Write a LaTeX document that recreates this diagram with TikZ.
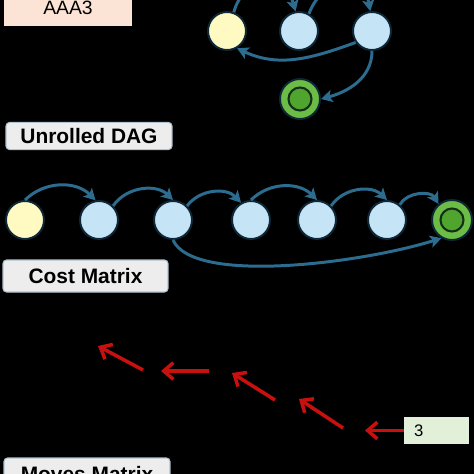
\documentclass[tikz,border=0pt]{standalone}
\usepackage{fontspec}
\setmainfont{Liberation Sans}
\usetikzlibrary{arrows.meta}
\definecolor{edgeblue}{HTML}{2B6C8F}
\definecolor{nodeblue}{HTML}{C5E4F5}
\definecolor{nodeyellow}{HTML}{FFFAC2}
\definecolor{ringgreen}{HTML}{6CBD45}
\definecolor{coregreen}{HTML}{4FA52E}
\definecolor{coredark}{HTML}{15301A}
\definecolor{rimdark}{HTML}{0E2838}
\definecolor{pathred}{HTML}{C8100F}
\definecolor{tagpeach}{HTML}{FBE4D5}
\definecolor{taggreen}{HTML}{E2F0D9}
\definecolor{labelgray}{HTML}{EDEDED}
\definecolor{labelrim}{HTML}{AFC3D0}
\begin{document}
\begin{tikzpicture}[x=0.02cm,y=0.02cm,
  state/.style={circle,draw=rimdark,line width=1.1pt,minimum size=0.76cm,inner sep=0pt},
  start/.style={state,fill=nodeyellow},
  mid/.style={state,fill=nodeblue},
  goal/.style={state,fill=ringgreen,minimum size=0.8cm,
    path picture={\draw[line width=1.2pt,draw=coredark,fill=coregreen]
      (path picture bounding box.center) circle (0.23cm);}},
  hop/.style={draw=edgeblue,line width=1.7pt,-{Stealth[length=6.5pt,width=7pt,inset=1.5pt]}},
  back/.style={draw=pathred,line width=2pt,-{Straight Barb[length=5.5pt,width=9.5pt]}},
  caption/.style={draw=labelrim,line width=0.6pt,fill=labelgray,rounded corners=2pt,
    font=\fontsize{11.9}{14}\selectfont\bfseries,text=black,minimum width=3.32cm}]
  \useasboundingbox (0,0) rectangle (474,-474);
  \fill[black] (0,0) rectangle (474,-474);
  \clip (0,0) rectangle (474,-474);

  % loop graph
  \node[fill=tagpeach,minimum width=2.56cm,minimum height=0.76cm,
    font=\fontsize{11}{13}\selectfont] (seq) at (68,-7.5) {AAA3};
  \node[start] (yt) at (227,-31) {};
  \node[mid] (a2) at (299,-31) {};
  \node[mid] (a3) at (372,-31) {};
  \node[goal] (gt) at (300,-99) {};

  \draw[hop] (yt.70) to[out=75,in=105,looseness=1.6] (a2.100);
  \draw[hop] (a2.60) to[out=70,in=100,looseness=1.6] (a3.95);
  \draw[hop] (a3.215) to[out=200,in=-25] (yt.-60);
  \draw[hop] (a3.south) to[out=-90,in=15] (gt.east);

  % unrolled graph
  \node[caption,minimum height=0.52cm] (dag) at (89,-136) {Unrolled DAG};
  \node[start] (u1) at (25,-220) {};
  \node[mid] (u2) at (99,-220) {};
  \node[mid] (u3) at (173,-220) {};
  \node[mid] (u4) at (251,-220) {};
  \node[mid] (u5) at (317,-220) {};
  \node[mid] (u6) at (387,-220) {};
  \node[goal] (u7) at (452,-220) {};

  \draw[hop] (u1.north) to[bend left=45] (u2.100);
  \draw[hop] (u2.45) to[bend left=50] (u3.north);
  \draw[hop] (u3.45) to[bend left=50] (u4.120);
  \draw[hop] (u4.north) to[bend left=45] (u5.north);
  \draw[hop] (u5.45) to[bend left=50] (u6.north);
  \draw[hop] (u6.50) to[bend left=60] (u7.130);
  \draw[hop] (u3.south) .. controls +(20,-45) and +(-80,-25) .. (u7.240);

  % cost matrix traceback
  \node[caption,minimum height=0.64cm,minimum width=3.3cm] (cost) at (85.5,-276) {Cost Matrix};
  \node[fill=taggreen,minimum height=0.54cm,text width=0.9cm,inner xsep=0.2cm,align=left,
    font=\fontsize{9.5}{11}\selectfont] (score) at (436.5,-430.5) {3};

  \coordinate (r5h) at (365,-430.5);
  \coordinate (r4t) at (343,-428);
  \coordinate (r4h) at (299,-399);
  \coordinate (r3t) at (275,-400);
  \coordinate (r3h) at (232,-373);
  \coordinate (r2t) at (209,-371);
  \coordinate (r2h) at (161,-371);
  \coordinate (r1t) at (143,-370);
  \coordinate (r1h) at (98,-346);

  \draw[back] (score.west) -- (r5h);
  \draw[back] (r4t) -- (r4h);
  \draw[back] (r3t) -- (r3h);
  \draw[back] (r2t) -- (r2h);
  \draw[back] (r1t) -- (r1h);

  \node[caption,minimum height=0.64cm] (moves) at (87,-474) {Moves Matrix};
\end{tikzpicture}
\end{document}
